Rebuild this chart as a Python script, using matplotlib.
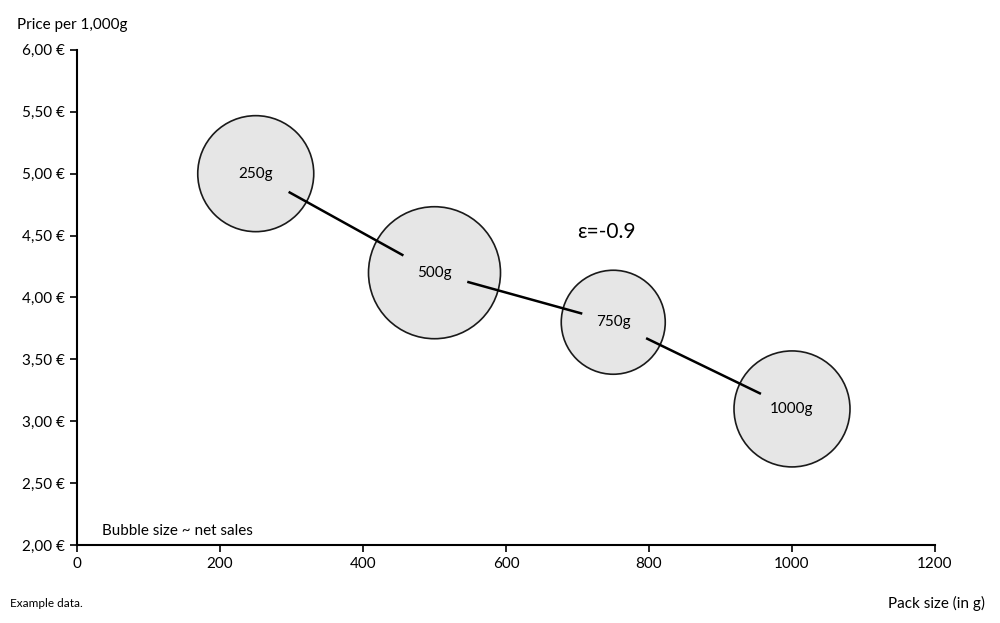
import matplotlib.pyplot as plt
import numpy as np

plt.rcParams['font.family'] = ['Lato', 'DejaVu Sans']

pack_size = [250, 500, 750, 1000]
price = [5.00, 4.20, 3.80, 3.10]
labels = ["250g", "500g", "750g", "1000g"]
net_sales = [3364, 4356, 2704, 3364]  # bubble area ~ net sales
y_ticks = [2.0, 2.5, 3.0, 3.5, 4.0, 4.5, 5.0, 5.5, 6.0]
x_ticks = [0, 200, 400, 600, 800, 1000, 1200]

fig = plt.figure(figsize=(10, 6.23), dpi=100)
ax = fig.add_axes([0.077, 0.125, 0.858, 0.795])

# bubble area in points^2 from net sales (radius in px -> points)
sizes = [(2 * np.sqrt(v) * 0.72) ** 2 for v in net_sales]
ax.scatter(pack_size, price, s=sizes, facecolor='#e6e6e6', edgecolor='#1a1a1a',
           linewidth=1.2, zorder=2)

for i in range(len(pack_size) - 1):
    x0, y0, x1, y1 = pack_size[i], price[i], pack_size[i + 1], price[i + 1]
    a, b = 0.19, 0.82
    ax.plot([x0 + a * (x1 - x0), x0 + b * (x1 - x0)],
            [y0 + a * (y1 - y0), y0 + b * (y1 - y0)],
            color='black', lw=1.8, zorder=3)

for x, y, t in zip(pack_size, price, labels):
    ax.text(x, y, t, ha='center', va='center', fontsize=11, zorder=4)

ax.set_xlim(0, 1200)
ax.set_ylim(2, 6)
ax.set_xticks(x_ticks)
ax.set_yticks(y_ticks)
ax.set_yticklabels([f"{v:.2f} €".replace('.', ',') for v in y_ticks])
ax.tick_params(labelsize=11, direction='out', length=5, width=1.2)
for s in ['top', 'right']:
    ax.spines[s].set_visible(False)
for s in ['left', 'bottom']:
    ax.spines[s].set_linewidth(1.5)

ax.text(35, 2.06, "Bubble size ~ net sales", fontsize=11, va='bottom')
ax.text(700, 4.45, "ε=-0.9", fontsize=15, va='bottom')

fig.text(0.017, 0.96, "Price per 1,000g", fontsize=11, va='center')
fig.text(0.985, 0.032, "Pack size (in g)", fontsize=11, ha='right', va='center')
fig.text(0.01, 0.032, "Example data.", fontsize=8.5, va='center')

fig.savefig("out.png", dpi=100)
